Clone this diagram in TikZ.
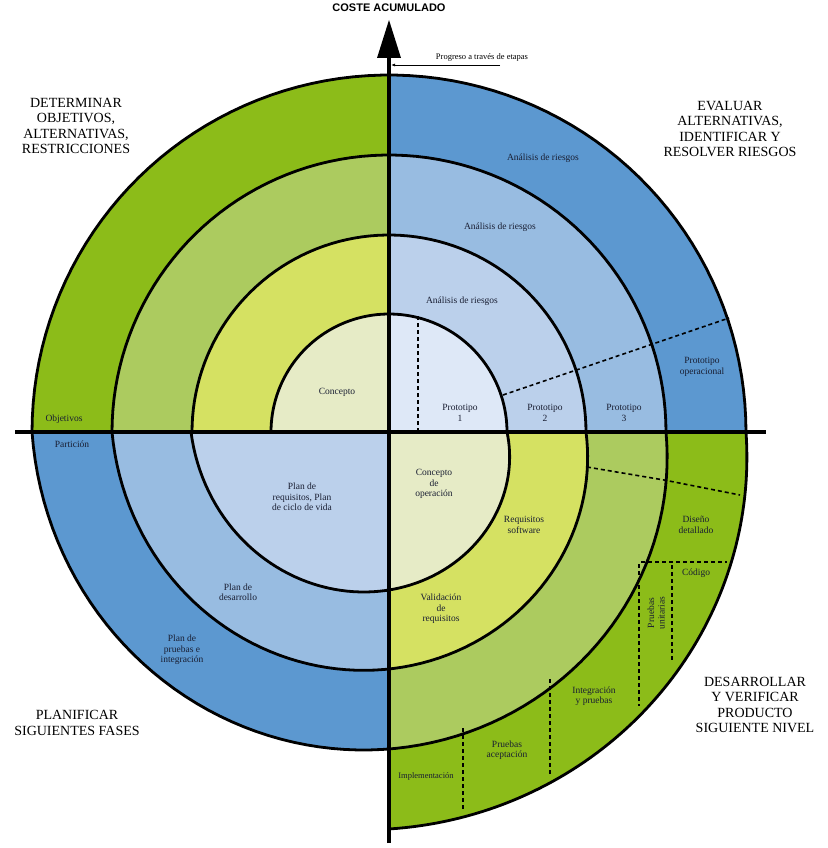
\documentclass[tikz,border=0pt]{standalone}
\usepackage{fontspec}
\usetikzlibrary{arrows.meta}
\setmainfont{Liberation Serif}
\newfontfamily\headfont{Liberation Sans}
\definecolor{gpale}{RGB}{230,235,198}
\definecolor{gyel}{RGB}{213,225,98}
\definecolor{glight}{RGB}{172,203,95}
\definecolor{gdark}{RGB}{140,188,25}
\definecolor{bvl}{RGB}{222,232,247}
\definecolor{bl}{RGB}{187,208,235}
\definecolor{bm}{RGB}{152,188,225}
\definecolor{bd}{RGB}{92,152,208}
\definecolor{txt}{RGB}{25,30,50}
\tikzset{
  declare function={sx(\r,\t)=389+(\r+80*\t/180)*cos(\t); sy(\r,\t)=432+(\r+80*\t/180)*sin(\t);
                    cx(\r,\t)=389+\r*cos(\t); cy(\r,\t)=432+\r*sin(\t);},
  ring/.style={line width=2.8pt},
  axisline/.style={line width=3.2pt},
  dash line/.style={line width=1.6pt,dash pattern=on 4pt off 3pt},
  lab/.style={font=\fontsize{9.5}{10.5}\selectfont,text=txt,align=center,inner sep=0pt},
  title/.style={font=\fontsize{14}{15.5}\selectfont,align=center,inner sep=0pt},
  sp/.style={domain=#1,samples=80},
}
\begin{document}
\begin{tikzpicture}[x=1pt,y=-1pt]
\useasboundingbox (0,0) rectangle (827,848);
\fill[white] (0,0) rectangle (827,848);
\coordinate (O) at (389,432);
% upper left
\fill[gdark] (O) -- plot[sp=180:270] ({cx(357,\x)},{cy(357,\x)}) -- cycle;
\fill[glight] (O) -- plot[sp=180:270] ({cx(277,\x)},{cy(277,\x)}) -- cycle;
\fill[gyel] (O) -- plot[sp=180:270] ({cx(197,\x)},{cy(197,\x)}) -- cycle;
\fill[gpale] (O) -- plot[sp=180:270] ({cx(118,\x)},{cy(118,\x)}) -- cycle;
% upper right
\fill[bd] (O) -- plot[sp=270:360] ({cx(357,\x)},{cy(357,\x)}) -- cycle;
\fill[bm] (O) -- plot[sp=270:360] ({cx(277,\x)},{cy(277,\x)}) -- cycle;
\fill[bl] (O) -- plot[sp=270:360] ({cx(197,\x)},{cy(197,\x)}) -- cycle;
\fill[bvl] (O) -- plot[sp=270:360] ({cx(118,\x)},{cy(118,\x)}) -- cycle;
% lower right
\fill[gdark] (O) -- plot[sp=0:90] ({sx(357,\x)},{sy(357,\x)}) -- cycle;
\fill[glight] (O) -- plot[sp=0:90] ({sx(277,\x)},{sy(277,\x)}) -- cycle;
\fill[gyel] (O) -- plot[sp=0:90] ({sx(197,\x)},{sy(197,\x)}) -- cycle;
\fill[gpale] (O) -- plot[sp=0:90] ({sx(118,\x)},{sy(118,\x)}) -- cycle;
% lower left
\fill[bd] (O) -- plot[sp=90:180] ({sx(277,\x)},{sy(277,\x)}) -- cycle;
\fill[bm] (O) -- plot[sp=90:180] ({sx(197,\x)},{sy(197,\x)}) -- cycle;
\fill[bl] (O) -- plot[sp=90:180] ({sx(118,\x)},{sy(118,\x)}) -- cycle;
% dashed lines
\draw[dash line] (418,432) -- (418,316);
\draw[dash line] (503,395) -- (729,318);
\draw[dash line] (587,467) -- (664,480) -- (740,495);
\draw[dash line] (641,562) -- (727,562);
\draw[dash line] (639,564) -- (639,706);
\draw[dash line] (672,565) -- (672,662);
\draw[dash line] (550,679) -- (550,776);
\draw[dash line] (463,728) -- (463,811);
% rings
\draw[ring] plot[sp=180:360] ({cx(118,\x)},{cy(118,\x)});
\draw[ring] plot[sp=180:360] ({cx(197,\x)},{cy(197,\x)});
\draw[ring] plot[sp=180:360] ({cx(277,\x)},{cy(277,\x)});
\draw[ring] plot[sp=180:360] ({cx(357,\x)},{cy(357,\x)});
\draw[ring] plot[sp=0:180] ({sx(118,\x)},{sy(118,\x)});
\draw[ring] plot[sp=0:180] ({sx(197,\x)},{sy(197,\x)});
\draw[ring] plot[sp=0:180] ({sx(277,\x)},{sy(277,\x)});
\draw[ring] plot[sp=0:90] ({sx(357,\x)},{sy(357,\x)});
% axes
\coordinate (xl) at (15,432);
\coordinate (xr) at (766,432);
\coordinate (yb) at (389,843);
\coordinate (yt) at (389,56);
\draw[axisline] (xl) -- (xr);
\draw[axisline] (yb) -- (yt);
\fill (389,20) -- (401,58) -- (377,58) -- cycle;
\coordinate (ps) at (500,65);
\coordinate (pe) at (391,65);
\draw[line width=0.8pt,-{Latex[length=4pt,width=3pt]}] (ps) -- (pe);
\node[inner sep=0pt,font=\fontsize{8.5}{9}\selectfont] (prog) at (482,57) {Progreso a través de etapas};
\node[inner sep=0pt,font=\headfont\bfseries\fontsize{11}{12}\selectfont] (coste) at (389,8) {COSTE ACUMULADO};
% titles
\node[title] (t1) at (76,126) {DETERMINAR\\OBJETIVOS,\\ALTERNATIVAS,\\RESTRICCIONES};
\node[title] (t2) at (730,129) {EVALUAR\\ALTERNATIVAS,\\IDENTIFICAR Y\\RESOLVER RIESGOS};
\node[title] (t3) at (77,723) {PLANIFICAR\\SIGUIENTES FASES};
\node[title] (t4) at (755,705) {DESARROLLAR\\Y VERIFICAR\\PRODUCTO\\SIGUIENTE NIVEL};
% labels
\node[lab] (a1) at (543,158) {Análisis de riesgos};
\node[lab] (a2) at (500,227) {Análisis de riesgos};
\node[lab] (a3) at (462,301) {Análisis de riesgos};
\node[lab] (p1) at (460,413) {Prototipo\\1};
\node[lab] (p2) at (545,413) {Prototipo\\2};
\node[lab] (p3) at (624,413) {Prototipo\\3};
\node[lab] (po) at (702,367) {Prototipo\\operacional};
\node[lab] (con) at (337,392) {Concepto};
\node[lab] (obj) at (64,419) {Objetivos};
\node[lab] (par) at (72,444) {Partición};
\node[lab] (pr) at (302,497) {Plan de\\requisitos, Plan\\de ciclo de vida};
\node[lab] (pd) at (238,592) {Plan de\\desarrollo};
\node[lab] (pp) at (182,650) {Plan de\\pruebas e\\integración};
\node[lab] (co) at (434,484) {Concepto\\de\\operación};
\node[lab] (rs) at (524,525) {Requisitos\\software};
\node[lab] (vr) at (441,609) {Validación\\de\\requisitos};
\node[lab] (dd) at (696,525) {Diseño\\detallado};
\node[lab] (cod) at (696,573) {Código};
\node[lab,rotate=90] (pu) at (656,613) {Pruebas\\unitarias};
\node[lab] (ip) at (594,696) {Integración\\y pruebas};
\node[lab] (pa) at (507,750) {Pruebas\\aceptación};
\node[lab,font=\fontsize{8.5}{9}\selectfont] (imp) at (426,776) {Implementación};
\end{tikzpicture}
\end{document}
